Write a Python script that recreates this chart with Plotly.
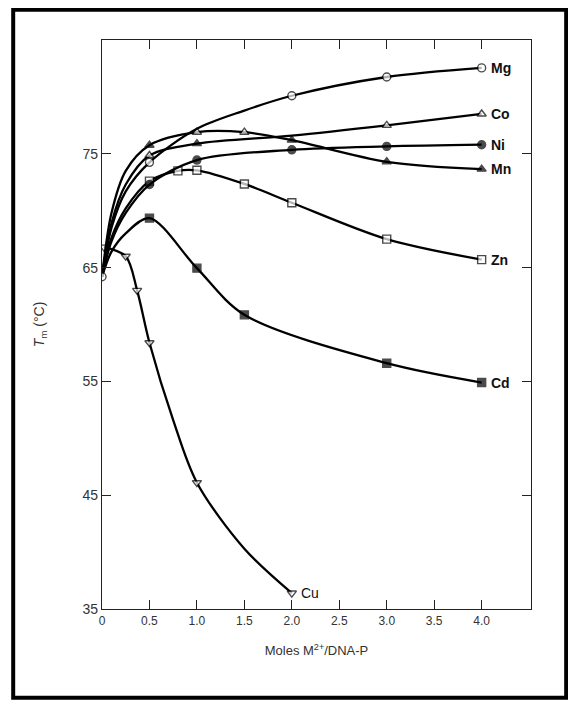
import plotly.graph_objects as go

# curves as they are drawn in the figure (x = moles M2+/DNA-P, y = Tm in C)
# marker symbol per point: "" = no marker, "-open" = white filled
mg_x = [0, 0.1, 0.25, 0.5, 1.0, 1.5, 2.0, 3.0, 4.0]
mg_y = [64.2, 68.5, 71.7, 74.25, 77.2, 78.8, 80.1, 81.75, 82.55]
mg_sym = ["circle-open", "", "", "circle-open", "", "", "circle-open", "circle-open", "circle-open"]

co_x = [0, 0.1, 0.25, 0.5, 1.0, 2.0, 3.0, 4.0]
co_y = [64.2, 68.9, 72.3, 74.85, 75.9, 76.6, 77.5, 78.5]
co_sym = ["", "", "", "triangle-up-open", "triangle-up", "", "triangle-up-open", "triangle-up-open"]

ni_x = [0, 0.1, 0.25, 0.5, 1.0, 2.0, 3.0, 4.0]
ni_y = [64.2, 67.3, 69.8, 72.3, 74.45, 75.35, 75.65, 75.8]
ni_sym = ["", "", "", "circle", "circle", "circle", "circle", "circle"]

mn_x = [0, 0.1, 0.25, 0.5, 1.0, 1.5, 2.0, 3.0, 4.0]
mn_y = [64.2, 69.8, 73.5, 75.75, 76.9, 76.9, 76.2, 74.3, 73.65]
mn_sym = ["", "", "", "triangle-up", "triangle-up-open", "triangle-up-open", "triangle-up", "triangle-up", "triangle-up"]

zn_x = [0, 0.1, 0.25, 0.5, 0.8, 1.0, 1.5, 2.0, 3.0, 4.0]
zn_y = [64.2, 67.6, 70.2, 72.6, 73.5, 73.55, 72.35, 70.7, 67.5, 65.7]
zn_sym = ["", "", "", "square-open", "square-open", "square-open", "square-open", "square-open", "square-open", "square-open"]

cd_x = [0, 0.1, 0.25, 0.5, 1.0, 1.5, 3.0, 4.0]
cd_y = [64.2, 66.4, 68.0, 69.35, 64.95, 60.85, 56.6, 54.9]
cd_sym = ["", "", "", "square", "square", "square", "square", "square"]

cu_x = [0.02, 0.25, 0.37, 0.5, 0.75, 1.0, 1.5, 2.0]
cu_y = [66.8, 66.0, 63.0, 58.4, 51.6, 46.1, 40.3, 36.4]
cu_sym = ["triangle-down-open", "triangle-down-open", "triangle-down-open", "triangle-down-open", "",
          "triangle-down-open", "", "triangle-down-open"]

curves = [
    ("Cu", cu_x, cu_y, cu_sym),
    ("Cd", cd_x, cd_y, cd_sym),
    ("Zn", zn_x, zn_y, zn_sym),
    ("Ni", ni_x, ni_y, ni_sym),
    ("Co", co_x, co_y, co_sym),
    ("Mn", mn_x, mn_y, mn_sym),
    ("Mg", mg_x, mg_y, mg_sym),
]

x_ticks = [0, 0.5, 1.0, 1.5, 2.0, 2.5, 3.0, 3.5, 4.0]
x_ticktext = ["0", "0.5", "1.0", "1.5", "2.0", "2.5", "3.0", "3.5", "4.0"]
y_ticks = [35, 45, 55, 65, 75]

font = "Liberation Sans, Arial, sans-serif"

fig = go.Figure()
for name, xs, ys, sym in curves:
    fig.add_trace(go.Scatter(
        x=xs, y=ys, mode="lines+markers", name=name,
        line=dict(color="black", width=2.3, shape="spline", smoothing=0.9),
        marker=dict(
            symbol=[s.replace("-open", "") if s else "circle" for s in sym],
            color=["white" if s.endswith("-open") else "black" for s in sym],
            size=[0 if s == "" else 8 for s in sym],
            line=dict(color="black", width=1.4),
        ),
        showlegend=False,
    ))
    # metal label at end of each curve
    fig.add_annotation(
        x=xs[-1], y=ys[-1], text=name if name == "Cu" else f"<b>{name}</b>",
        showarrow=False, xanchor="left", yanchor="middle", xshift=7,
        font=dict(family=font, size=14, color="#111"),
    )

fig.update_xaxes(
    range=[0, 4.52], tickvals=x_ticks, ticktext=x_ticktext,
    ticks="inside", ticklen=9, tickcolor="#222", mirror="ticks",
    showline=True, linecolor="#222", linewidth=1.2, showgrid=False, zeroline=False,
    tickfont=dict(family=font, size=12, color="#333"),
    title=dict(text="Moles M<sup>2+</sup>/DNA-P", standoff=19,
               font=dict(family=font, size=13, color="#333")),
)
fig.update_yaxes(
    range=[35, 85], tickvals=y_ticks,
    ticks="inside", ticklen=9, tickcolor="#222", mirror="ticks",
    showline=True, linecolor="#222", linewidth=1.2, showgrid=False, zeroline=False,
    tickfont=dict(family=font, size=14, color="#333"),
    title=dict(text="<i>T</i><sub>m</sub> (°C)", standoff=34,
               font=dict(family=font, size=14, color="#333")),
)

# thick black border around the whole figure
fig.add_shape(type="rect", xref="paper", yref="paper",
              x0=-0.207, x1=1.082, y0=-0.156, y1=1.053,
              line=dict(color="black", width=4))

# page body adds an 8px margin, so the figure is drawn 8px smaller/shifted
fig.update_layout(
    width=568, height=704,
    margin=dict(l=94, r=45, t=32, b=103),
    plot_bgcolor="white", paper_bgcolor="white",
    font=dict(family=font),
)

fig.write_html("out.html")
